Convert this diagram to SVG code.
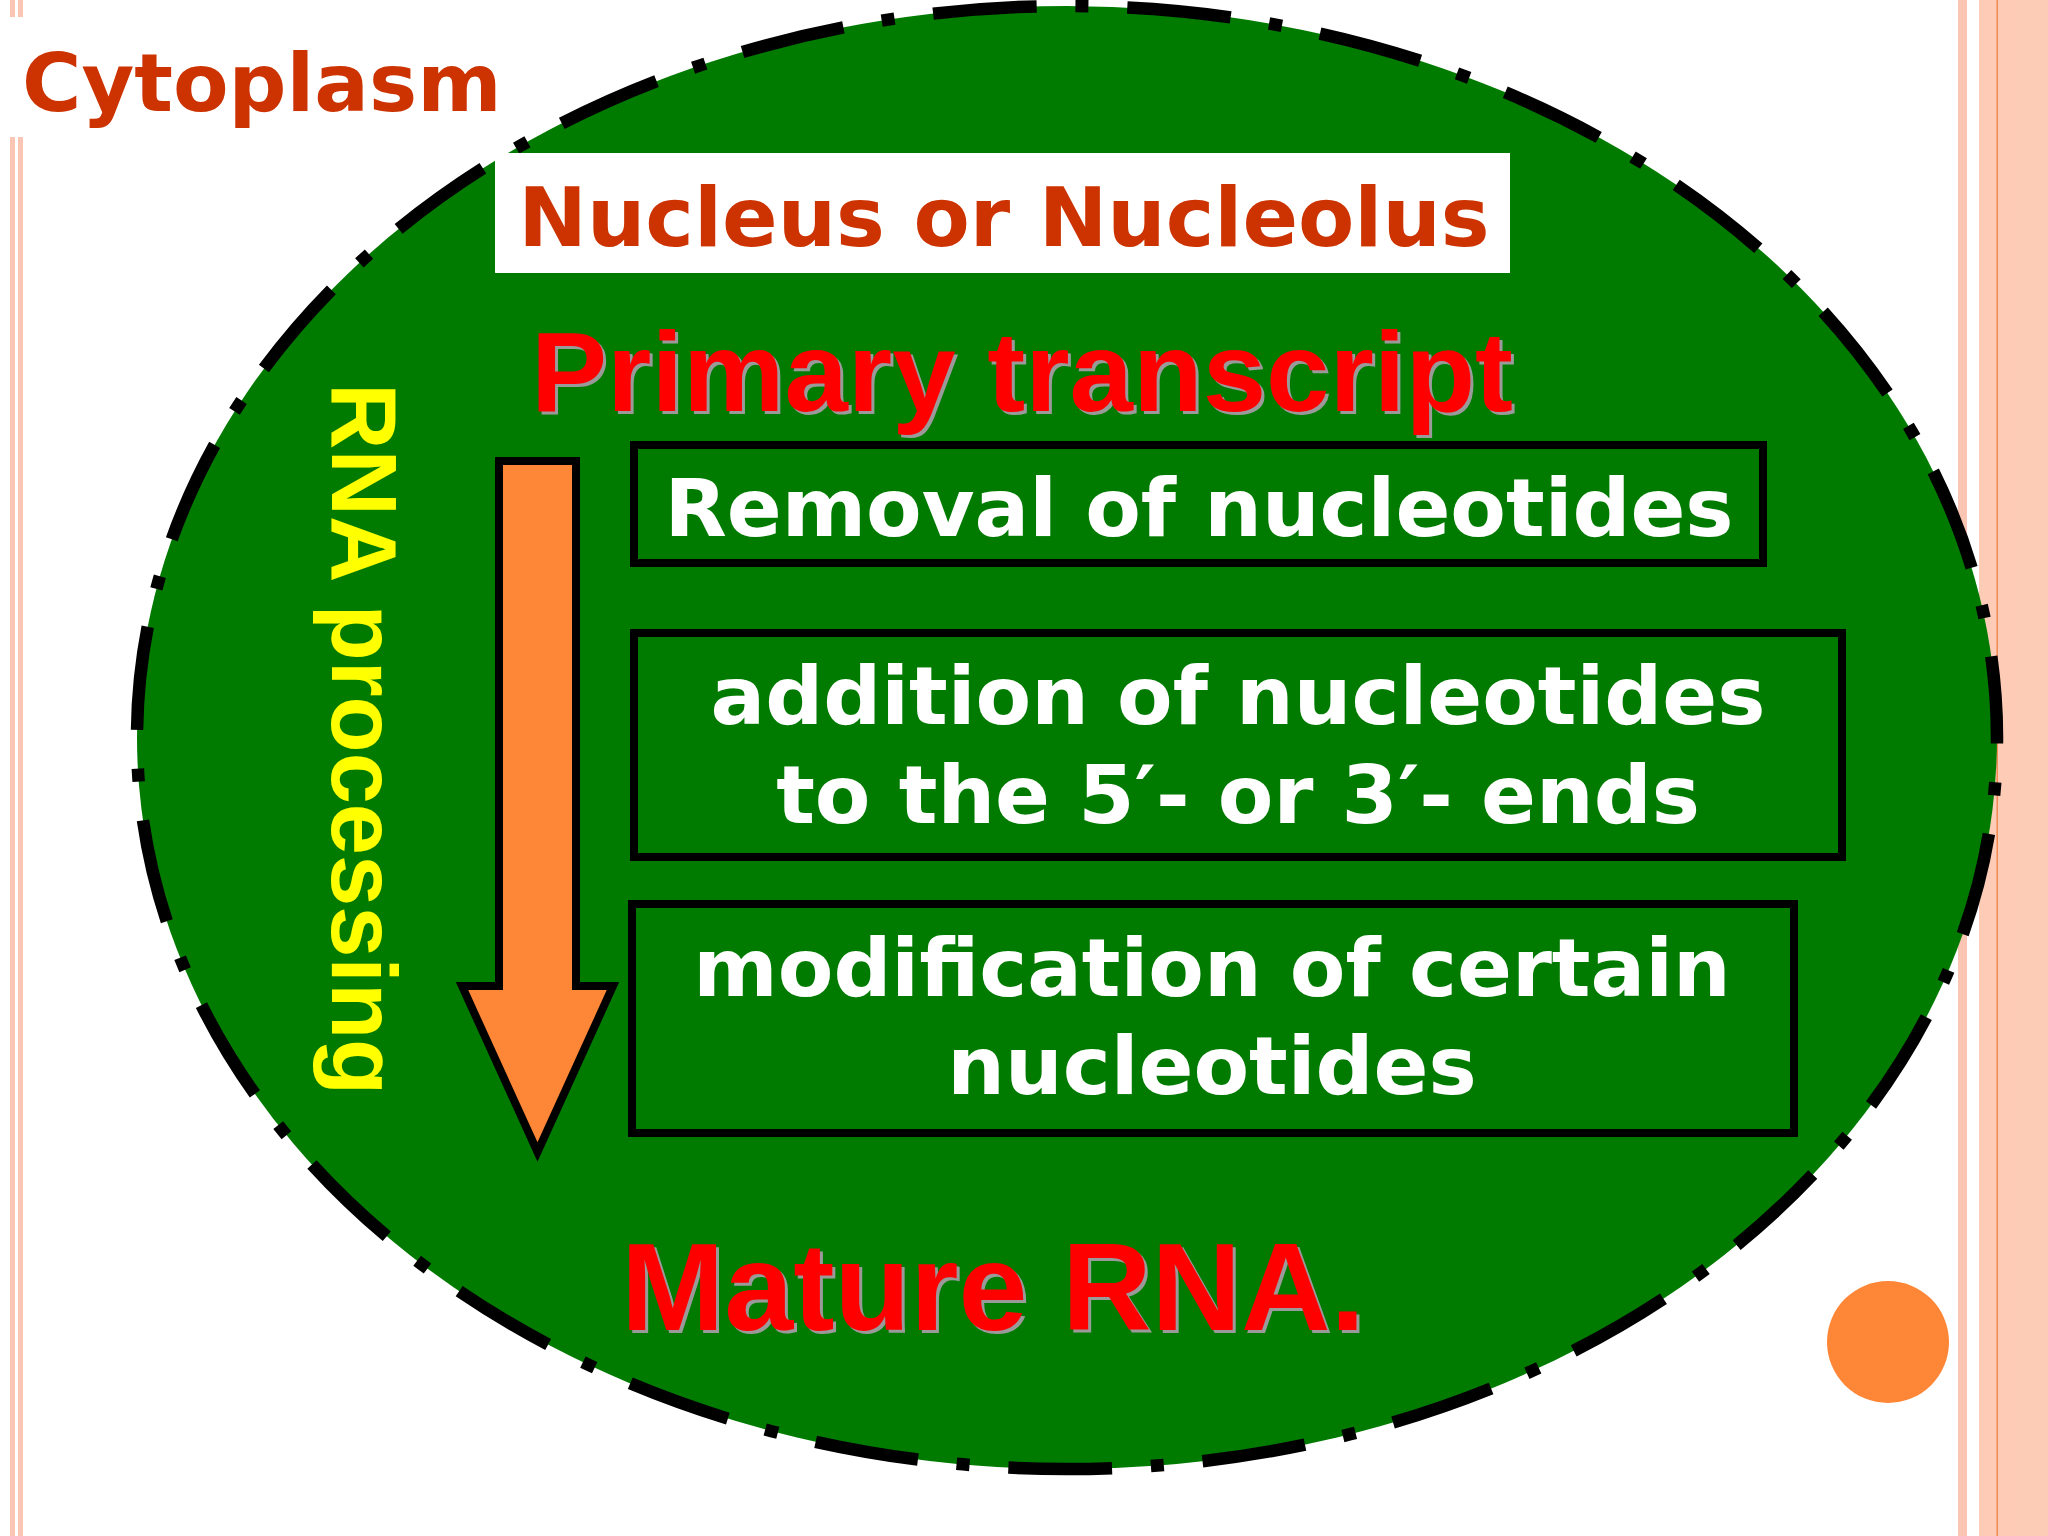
<svg xmlns="http://www.w3.org/2000/svg" width="2048" height="1536" viewBox="0 0 2048 1536">
<defs>
<style>
.verd{font-family:"DejaVu Sans","Verdana",sans-serif;font-weight:bold;}
.arial{font-family:"Liberation Sans","Arial",sans-serif;font-weight:bold;}
.box{fill:none;stroke:#000;stroke-width:8;}
.wt{fill:#ffffff;font-size:81px;text-anchor:middle;}
.brown{fill:#CC3300;}
.stripe{fill:#FBC5B4;}
</style>
</defs>
<rect x="0" y="0" width="2048" height="1536" fill="#ffffff"/>
<!-- border stripes -->
<g id="borders">
<rect class="stripe" x="10" y="0" width="5" height="1536"/>
<rect class="stripe" x="18" y="0" width="5" height="1536"/>
<rect class="stripe" x="1958" y="0" width="9" height="1536"/>
<rect x="1979" y="0" width="69" height="1536" fill="#FDCBB6"/>
<rect x="2015" y="0" width="33" height="1536" fill="#FDCCB6"/>
<rect x="1996.5" y="0" width="1.5" height="1536" fill="#F08A50"/>
</g>
<g id="cytoplasm">
<rect x="0" y="17" width="470" height="120" fill="#ffffff"/>
<text class="verd brown" x="22" y="111" font-size="81">Cytoplasm</text>
</g>
<g id="nucleus">
<ellipse cx="1067" cy="737.5" rx="930" ry="731.5" fill="#007B00" stroke="#000" stroke-width="12.5" stroke-dasharray="103.8 38.9 13 38.9" stroke-dashoffset="97.8"/>
</g>
<g id="nucleus-label">
<rect x="495" y="153" width="1015" height="120" fill="#ffffff"/>
<text class="verd brown" x="1004" y="246" font-size="82" text-anchor="middle">Nucleus or Nucleolus</text>
</g>
<g id="rna-processing">
<text class="arial" transform="translate(332,383) rotate(90)" x="0" y="0" font-size="92" fill="#FFFF00">RNA processing</text>
</g>
<g id="primary">
<text class="arial" x="534" y="414" font-size="114" fill="#9a9a9a">Primary transcript</text>
<text class="arial" x="531" y="411" font-size="114" fill="#FF0000">Primary transcript</text>
</g>
<g id="connectors">
<path d="M499 461 L576 461 L576 986 L613 986 L537.5 1152 L462 986 L499 986 Z" fill="#FE8637" stroke="#000" stroke-width="8" stroke-linejoin="miter"/>
</g>
<g id="removal">
<rect class="box" x="634" y="445" width="1129" height="118"/>
<text class="verd wt" x="1199" y="536">Removal of nucleotides</text>
</g>
<g id="addition">
<rect class="box" x="634" y="633" width="1208" height="224"/>
<text class="verd wt" x="1238" y="724">addition of nucleotides</text>
<text class="verd wt" x="1238" y="823">to the 5′- or 3′- ends</text>
</g>
<g id="modification">
<rect class="box" x="632" y="904" width="1162" height="229"/>
<text class="verd wt" x="1212" y="996">modification of certain</text>
<text class="verd wt" x="1212" y="1094">nucleotides</text>
</g>
<g id="mature">
<text class="arial" x="624" y="1333" font-size="124" fill="#9a9a9a">Mature RNA.</text>
<text class="arial" x="621" y="1330" font-size="124" fill="#FF0000">Mature RNA.</text>
</g>
<g id="dot">
<circle cx="1888" cy="1342" r="61" fill="#FE8637"/>
</g>
</svg>
